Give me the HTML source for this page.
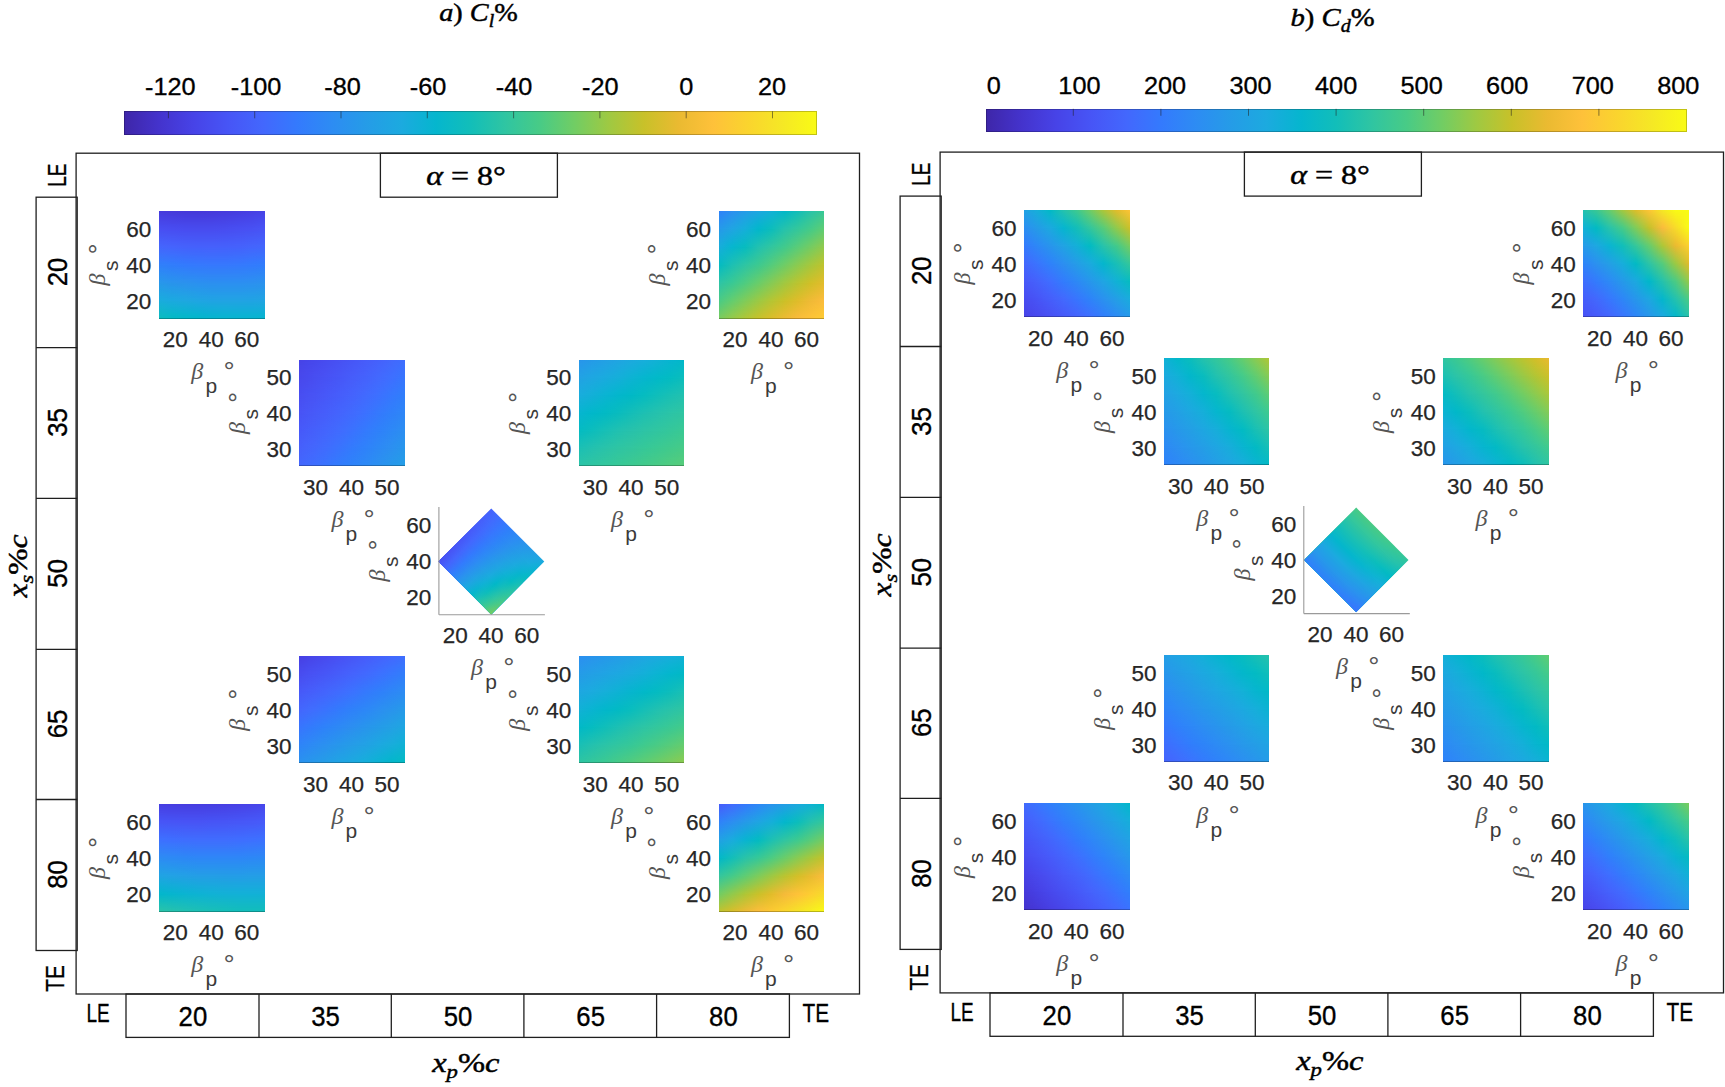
<!DOCTYPE html>
<html lang="en"><head><meta charset="utf-8"><title>Cl and Cd percentage maps</title>
<style>
html,body{margin:0;padding:0;background:#fff}
#fig{position:relative;width:1725px;height:1087px;overflow:hidden;background:#fff}
.h{position:absolute}
.h::after{content:"";position:absolute;left:0;right:0;bottom:0;height:1px;background:rgba(0,0,0,.25)}
.h.d::after{display:none}
.h i{position:absolute;left:0;top:0;right:0;bottom:0;display:block}
.m1{-webkit-mask-image:linear-gradient(180deg,transparent 0%,#000 16.67%);mask-image:linear-gradient(180deg,transparent 0%,#000 16.67%)}
.m2{-webkit-mask-image:linear-gradient(180deg,transparent 16.67%,#000 33.33%);mask-image:linear-gradient(180deg,transparent 16.67%,#000 33.33%)}
.m3{-webkit-mask-image:linear-gradient(180deg,transparent 33.33%,#000 50%);mask-image:linear-gradient(180deg,transparent 33.33%,#000 50%)}
.m4{-webkit-mask-image:linear-gradient(180deg,transparent 50%,#000 66.67%);mask-image:linear-gradient(180deg,transparent 50%,#000 66.67%)}
.m5{-webkit-mask-image:linear-gradient(180deg,transparent 66.67%,#000 83.33%);mask-image:linear-gradient(180deg,transparent 66.67%,#000 83.33%)}
.m6{-webkit-mask-image:linear-gradient(180deg,transparent 83.33%,#000 100%);mask-image:linear-gradient(180deg,transparent 83.33%,#000 100%)}
.cb{position:absolute;box-shadow:inset 0 0 0 1px rgba(0,0,0,.22)}
svg{position:absolute;left:0;top:0}
.ln{fill:none;stroke:#1f1f1f;stroke-width:1.3}
.tk{stroke:#222;stroke-opacity:.55;stroke-width:1}
.axl{stroke:#9a9a9a;stroke-width:1.1}
text{font-family:"Liberation Sans",sans-serif;fill:#000}
.tl{font-size:22.5px;fill:#262626;stroke:#262626;stroke-width:.25}
.cl{font-size:23px;fill:#000;stroke:#000;stroke-width:.3}
.sn{font-size:27px;stroke:#000;stroke-width:.35}
.sl{font-size:25.5px;stroke:#000;stroke-width:.3}
.al,.ax,.ti{font-family:"Liberation Serif",serif;stroke:#000;stroke-width:.45}
.it{font-style:italic}
.al{font-size:27px}
.ax{font-size:28.3px}
.ti{font-size:25.5px}
.sub{font-size:70%}
.be{font-family:"Liberation Serif",serif;font-style:italic;font-size:24px;fill:#555}
.bs{font-size:21px;fill:#3a3a3a}
.bd{font-size:28px;fill:#555}
</style></head>
<body>
<div id="fig">
<div class="h" style="left:159px;top:211px;width:105.9px;height:107.7px;"><i style="background:linear-gradient(90deg,#463adc,#4639d9,#4538d8,#4538d8,#4639d9,#463adc,#463cdf,#473fe3,#4743e7)"></i><i class="m1" style="background:linear-gradient(90deg,#484ff2,#484df1,#484cf0,#484cef,#484cef,#484df0,#484ff2,#4851f3,#4854f6)"></i><i class="m2" style="background:linear-gradient(90deg,#4466fd,#4564fd,#4562fc,#4561fc,#4661fc,#4561fc,#4562fc,#4465fd,#4367fd)"></i><i class="m3" style="background:linear-gradient(90deg,#3080fa,#317dfc,#337afd,#3579fd,#3678fd,#3678fd,#3579fd,#337bfd,#317dfc)"></i><i class="m4" style="background:linear-gradient(90deg,#2798ea,#2994ec,#2b92ee,#2b90f0,#2c8ff0,#2c8ff1,#2c8ff1,#2c90f0,#2b92ee)"></i><i class="m5" style="background:linear-gradient(90deg,#19addc,#1baadf,#1ea8e0,#1fa6e2,#20a4e3,#21a4e3,#21a4e3,#20a4e3,#20a5e2)"></i><i class="m6" style="background:linear-gradient(90deg,#0abdbd,#03bbc3,#01b9c7,#01b7ca,#04b6cd,#06b6ce,#06b5cf,#06b5cf,#05b6ce)"></i></div>
<div class="h" style="left:1024.1px;top:210px;width:105.5px;height:107.2px;"><i style="background:linear-gradient(90deg,#22a1e4,#16afd9,#01bac6,#25c2ad,#3eca8f,#70cd65,#adc638,#e2bc2b,#fec437)"></i><i class="m1" style="background:linear-gradient(90deg,#2c8ef2,#259be7,#1ca9df,#06b5cf,#13beb8,#33c69d,#58cc79,#92ca4b,#ccc028)"></i><i class="m2" style="background:linear-gradient(90deg,#347afd,#2d88f6,#2895ec,#21a3e3,#13b0d7,#02bbc3,#29c3aa,#43ca8a,#77cc60)"></i><i class="m3" style="background:linear-gradient(90deg,#4367fd,#3a74fe,#2f82fa,#2c8ff0,#259de7,#1babde,#04b6cd,#19bfb6,#35c79a)"></i><i class="m4" style="background:linear-gradient(90deg,#4758f8,#4562fc,#3f6eff,#327cfc,#2d89f5,#2797eb,#20a5e3,#11b2d5,#06bcc0)"></i><i class="m5" style="background:linear-gradient(90deg,#484cf0,#4854f6,#465efb,#4369fe,#3875fe,#2e83f9,#2b91ef,#249fe6,#1aacdd)"></i><i class="m6" style="background:linear-gradient(90deg,#4743e7,#4849ed,#4851f3,#4759f9,#4563fd,#3e6fff,#317dfc,#2d8bf4,#2699ea)"></i></div>
<div class="h" style="left:718.7px;top:211px;width:105.8px;height:107.7px;"><i style="background:linear-gradient(90deg,#2f81fa,#2c8ff0,#259ce7,#1ea7e1,#12b1d6,#01b8c8,#12beb9,#2ac3a9,#37c898)"></i><i class="m1" style="background:linear-gradient(90deg,#2699e9,#20a5e2,#15afd9,#02b7cb,#0cbdbc,#26c2ac,#34c79b,#45cb88,#5fcd73)"></i><i class="m2" style="background:linear-gradient(90deg,#18addb,#06b6ce,#07bcbf,#22c1b0,#32c69f,#41ca8c,#5acc78,#75cc61,#92ca4c)"></i><i class="m3" style="background:linear-gradient(90deg,#03bbc2,#1dc0b3,#2fc5a3,#3dc990,#54cc7c,#6fcd66,#8ccb50,#a7c73c,#bfc32d)"></i><i class="m4" style="background:linear-gradient(90deg,#2dc4a6,#39c994,#4fcc80,#69cd6a,#86cb55,#a2c840,#bbc430,#d1bf27,#e3bc2c)"></i><i class="m5" style="background:linear-gradient(90deg,#4acb85,#64cd6f,#80cc59,#9cc944,#b6c533,#ccc028,#e0bc2a,#f0ba36,#fcbc3d)"></i><i class="m6" style="background:linear-gradient(90deg,#7acc5d,#97ca48,#b1c636,#c8c129,#dcbd29,#edba33,#fabb3d,#fec338,#fdcc32)"></i></div>
<div class="h" style="left:1583.3px;top:210px;width:106px;height:107.2px;"><i style="background:linear-gradient(90deg,#21c1b0,#39c895,#65cd6e,#a3c83f,#debd29,#fec537,#f5e824,#f9fb15,#f9fb15)"></i><i class="m1" style="background:linear-gradient(90deg,#13b1d7,#02bac3,#28c3ab,#45cb89,#80cc59,#c3c22b,#f9bb3d,#f7db2a,#f9fb15)"></i><i class="m2" style="background:linear-gradient(90deg,#269ae9,#1ea7e1,#0ab4d2,#11beb9,#35c79b,#65cd6e,#adc738,#ebba31,#fbd22f)"></i><i class="m3" style="background:linear-gradient(90deg,#2e83f9,#2b91ef,#249fe5,#17aedb,#02bac4,#2dc4a6,#55cc7c,#9cc943,#e1bc2b)"></i><i class="m4" style="background:linear-gradient(90deg,#3f6dfe,#337bfc,#2d8af5,#2699e9,#1ca9df,#01b8ca,#26c2ac,#4ccb83,#94ca4a)"></i><i class="m5" style="background:linear-gradient(90deg,#465dfa,#4368fd,#3876fe,#2e86f7,#2796eb,#1ea7e1,#04b6cc,#24c2ae,#4acb85)"></i><i class="m6" style="background:linear-gradient(90deg,#4851f4,#475af9,#4465fd,#3a74fe,#2e85f8,#2896eb,#1ea8e1,#02b7cb,#27c2ac)"></i></div>
<div class="h" style="left:299.2px;top:359.5px;width:106px;height:106.9px;"><i style="background:linear-gradient(90deg,#4743e7,#4747ec,#484cf0,#4851f3,#4756f7,#475cfa,#4561fc,#4368fd,#3f6eff)"></i><i class="m1" style="background:linear-gradient(90deg,#4848ec,#484df0,#4852f4,#4757f7,#475dfa,#4562fc,#4369fe,#3e6fff,#3776fe)"></i><i class="m2" style="background:linear-gradient(90deg,#484ef1,#4853f4,#4758f8,#465dfb,#4563fd,#426afe,#3d70ff,#3678fe,#307ffb)"></i><i class="m3" style="background:linear-gradient(90deg,#4853f5,#4759f8,#465efb,#4464fd,#416afe,#3c71ff,#3579fd,#3080fa,#2e87f7)"></i><i class="m4" style="background:linear-gradient(90deg,#4759f9,#465ffb,#4465fd,#416bfe,#3b72fe,#347afd,#2f81fa,#2d88f6,#2c8ff1)"></i><i class="m5" style="background:linear-gradient(90deg,#4660fb,#4466fd,#406cfe,#3a73fe,#337bfd,#2f82fa,#2d89f5,#2c90f0,#2797eb)"></i><i class="m6" style="background:linear-gradient(90deg,#4367fd,#3f6dfe,#3974fe,#327cfc,#2e83f9,#2d8af5,#2b91ef,#2798ea,#249fe6)"></i></div>
<div class="h" style="left:1164.1px;top:358.3px;width:105.3px;height:107.2px;"><i style="background:linear-gradient(90deg,#11b1d6,#01b8ca,#0bbdbc,#25c2ad,#34c79c,#47cb87,#66cd6d,#8bcb51,#b0c636)"></i><i class="m1" style="background:linear-gradient(90deg,#1caadf,#12b1d7,#02b7cb,#09bcbe,#23c1af,#32c69e,#44cb8a,#62cd70,#87cb54)"></i><i class="m2" style="background:linear-gradient(90deg,#23a1e4,#1da9e0,#14b0d8,#04b6cd,#07bcc0,#20c1b1,#31c5a1,#41ca8c,#5ecd74)"></i><i class="m3" style="background:linear-gradient(90deg,#2699e9,#23a0e5,#1da8e0,#15afd9,#05b6ce,#05bbc1,#1dc0b3,#2fc5a3,#3eca8f)"></i><i class="m4" style="background:linear-gradient(90deg,#2b91ef,#2798ea,#249fe5,#1ea7e1,#17aeda,#07b5cf,#02bbc3,#1ac0b4,#2ec4a5)"></i><i class="m5" style="background:linear-gradient(90deg,#2d89f5,#2c90f0,#2797eb,#249ee6,#1fa6e2,#18addb,#09b4d1,#02bac4,#17bfb6)"></i><i class="m6" style="background:linear-gradient(90deg,#2f81fa,#2d88f6,#2c8ff1,#2796eb,#249ee6,#20a5e2,#19addc,#0bb3d2,#01b9c6)"></i></div>
<div class="h" style="left:578.9px;top:359.5px;width:105.6px;height:106.9px;"><i style="background:linear-gradient(90deg,#2895ec,#259be8,#23a0e5,#20a5e2,#1caadf,#17aedb,#11b2d5,#07b5d0,#01b8ca)"></i><i class="m1" style="background:linear-gradient(90deg,#22a2e4,#1ea7e1,#1aabde,#15afd9,#0db3d3,#05b6ce,#01b9c8,#03bbc2,#0cbdbc)"></i><i class="m2" style="background:linear-gradient(90deg,#19addc,#13b0d7,#0ab4d2,#03b7cc,#01b9c6,#06bcc0,#10beba,#1ac0b4,#23c1af)"></i><i class="m3" style="background:linear-gradient(90deg,#07b5d0,#01b8ca,#02bac4,#09bcbe,#14beb8,#1ec0b2,#26c2ad,#2cc4a7,#30c5a2)"></i><i class="m4" style="background:linear-gradient(90deg,#04bbc2,#0cbdbc,#17bfb6,#21c1b0,#28c2ab,#2dc4a5,#31c6a0,#35c79a,#3ac994)"></i><i class="m5" style="background:linear-gradient(90deg,#1bc0b4,#24c1af,#2ac3a9,#2fc5a3,#33c69e,#36c898,#3bc992,#41ca8c,#47cb87)"></i><i class="m6" style="background:linear-gradient(90deg,#2cc4a7,#30c5a1,#34c79c,#38c896,#3dc990,#43ca8a,#4acb85,#51cc7f,#58cc79)"></i></div>
<div class="h" style="left:1443.3px;top:358.3px;width:105.7px;height:107.2px;"><i style="background:linear-gradient(90deg,#2fc5a2,#3bc992,#4fcc80,#68cd6b,#85cb56,#a1c840,#bcc42f,#d5be28,#eaba31)"></i><i class="m1" style="background:linear-gradient(90deg,#1bc0b4,#2cc4a7,#36c898,#48cb86,#60cd72,#7bcc5d,#98c947,#b3c534,#cdc028)"></i><i class="m2" style="background:linear-gradient(90deg,#02bac5,#13beb8,#27c2ab,#33c69d,#41ca8d,#57cc7a,#71cd64,#8ecb4e,#abc739)"></i><i class="m3" style="background:linear-gradient(90deg,#0db3d3,#01b8c8,#0bbdbc,#22c1b0,#2fc5a2,#3bc992,#4fcc80,#68cd6b,#85cb56)"></i><i class="m4" style="background:linear-gradient(90deg,#1caadf,#12b1d7,#03b7cc,#06bbc1,#1bc0b4,#2cc4a7,#36c898,#48cb86,#60cd72)"></i><i class="m5" style="background:linear-gradient(90deg,#23a0e5,#1ea8e1,#16afda,#07b5d0,#02bac5,#13beb8,#27c2ab,#33c69d,#41ca8d)"></i><i class="m6" style="background:linear-gradient(90deg,#2895ec,#249de6,#20a5e2,#19acdc,#0db3d3,#01b8c8,#0bbdbc,#22c1b0,#2fc5a2)"></i></div>
<div class="h" style="left:299.2px;top:656.1px;width:106px;height:107.1px;"><i style="background:linear-gradient(90deg,#473fe3,#4745e9,#484aee,#4850f3,#4756f6,#475cfa,#4562fc,#4368fe,#3f6eff)"></i><i class="m1" style="background:linear-gradient(90deg,#484cef,#4852f4,#4757f7,#465dfa,#4563fd,#4269fe,#3d70ff,#3777fe,#317efb)"></i><i class="m2" style="background:linear-gradient(90deg,#4759f8,#465ffb,#4465fd,#416bfe,#3c72ff,#3579fd,#307ffb,#2e86f7,#2d8cf3)"></i><i class="m3" style="background:linear-gradient(90deg,#4466fd,#406dfe,#3a73fe,#337afd,#2f81fa,#2d87f7,#2c8ef2,#2994ed,#269ae9)"></i><i class="m4" style="background:linear-gradient(90deg,#3875fe,#327cfc,#2e83f9,#2d89f5,#2c8ff0,#2895ec,#259be8,#23a1e4,#1ea7e1)"></i><i class="m5" style="background:linear-gradient(90deg,#2e84f8,#2d8bf4,#2b91ef,#2797eb,#259de7,#22a2e4,#1da8e0,#18addb,#0fb2d4)"></i><i class="m6" style="background:linear-gradient(90deg,#2a92ee,#2798ea,#249ee6,#20a4e3,#1ca9df,#16afda,#0bb3d2,#01b7ca,#04bbc2)"></i></div>
<div class="h" style="left:1164.1px;top:655.1px;width:105.3px;height:106.8px;"><i style="background:linear-gradient(90deg,#249fe6,#20a5e3,#1baade,#14b0d8,#08b4d0,#01b9c8,#08bcbf,#19bfb5,#27c2ac)"></i><i class="m1" style="background:linear-gradient(90deg,#2896ec,#259ce7,#22a2e4,#1da8e0,#18aedb,#0db3d4,#03b7cb,#03bbc3,#11beb9)"></i><i class="m2" style="background:linear-gradient(90deg,#2d8cf3,#2a93ee,#2699e9,#23a0e5,#1fa6e2,#1aabdd,#13b1d7,#06b5cf,#01b9c6)"></i><i class="m3" style="background:linear-gradient(90deg,#2e83f9,#2d8af5,#2b90f0,#2797eb,#249de7,#21a3e3,#1ca9e0,#16afda,#0bb3d2)"></i><i class="m4" style="background:linear-gradient(90deg,#3578fd,#3080fb,#2e87f7,#2c8ef2,#2994ed,#269ae8,#23a1e5,#1ea7e1,#19acdc)"></i><i class="m5" style="background:linear-gradient(90deg,#3f6dfe,#3975fe,#317dfc,#2e84f8,#2d8bf4,#2b91ef,#2798ea,#249ee6,#20a4e3)"></i><i class="m6" style="background:linear-gradient(90deg,#4563fd,#426afe,#3c72ff,#347afd,#2f81fa,#2d88f6,#2c8ff1,#2895ec,#259ce7)"></i></div>
<div class="h" style="left:578.9px;top:656.1px;width:105.6px;height:107.1px;"><i style="background:linear-gradient(90deg,#2c8ff1,#2994ed,#2698ea,#259de7,#22a1e4,#1fa6e2,#1caadf,#17aedb,#11b1d6)"></i><i class="m1" style="background:linear-gradient(90deg,#259be8,#23a0e5,#20a4e3,#1da8e0,#19acdc,#13b0d8,#0bb4d2,#03b7cc,#01b9c6)"></i><i class="m2" style="background:linear-gradient(90deg,#1ea7e1,#1babde,#16afd9,#0eb2d4,#06b5ce,#01b8c8,#04bbc2,#0ebdbb,#1bc0b4)"></i><i class="m3" style="background:linear-gradient(90deg,#12b1d6,#09b4d1,#02b7cb,#02bac4,#09bdbe,#16bfb7,#22c1b0,#2ac3a9,#30c5a1)"></i><i class="m4" style="background:linear-gradient(90deg,#01b9c7,#06bcc0,#11beb9,#1dc0b3,#27c2ab,#2ec5a4,#34c79c,#3bc993,#44cb8a)"></i><i class="m5" style="background:linear-gradient(90deg,#19bfb5,#24c1ae,#2cc4a7,#32c69f,#37c897,#40ca8d,#4bcb84,#58cc79,#65cd6e)"></i><i class="m6" style="background:linear-gradient(90deg,#2fc5a2,#35c79a,#3cc991,#47cb87,#53cc7d,#60cd72,#6ecd66,#7ecc5b,#8dcb4f)"></i></div>
<div class="h" style="left:1443.3px;top:655.1px;width:105.7px;height:106.8px;"><i style="background:linear-gradient(90deg,#15afd9,#08b4d0,#01b9c7,#0cbdbc,#21c1b0,#2ec4a4,#38c896,#49cb85,#60cd72)"></i><i class="m1" style="background:linear-gradient(90deg,#1da8e0,#17aeda,#0bb3d2,#01b8c9,#09bcbe,#1dc0b3,#2cc4a7,#36c899,#45cb89)"></i><i class="m2" style="background:linear-gradient(90deg,#23a0e5,#1ea7e1,#19addc,#0eb2d4,#02b7ca,#06bcc0,#1abfb5,#2ac3a9,#34c79c)"></i><i class="m3" style="background:linear-gradient(90deg,#2699e9,#249fe5,#1fa6e2,#1aacdd,#11b1d6,#04b6cc,#03bbc2,#16bfb7,#27c2ab)"></i><i class="m4" style="background:linear-gradient(90deg,#2b91ef,#2797ea,#249ee6,#20a4e3,#1babde,#13b0d7,#06b6ce,#02bac4,#11beb9)"></i><i class="m5" style="background:linear-gradient(90deg,#2d89f5,#2c90f0,#2796eb,#259de7,#21a3e3,#1ca9df,#15afd9,#07b5d0,#01b9c6)"></i><i class="m6" style="background:linear-gradient(90deg,#2f81fa,#2d88f6,#2c8ef1,#2895ec,#259be7,#22a2e4,#1da8e0,#17aeda,#0ab4d2)"></i></div>
<div class="h" style="left:159px;top:804.4px;width:105.9px;height:107.2px;"><i style="background:linear-gradient(90deg,#463ee1,#463de0,#463ddf,#463de0,#463ee1,#473fe3,#4741e5,#4744e8,#4747eb)"></i><i class="m1" style="background:linear-gradient(90deg,#4756f7,#4755f6,#4854f6,#4854f5,#4755f6,#4756f6,#4757f7,#4759f8,#475bfa)"></i><i class="m2" style="background:linear-gradient(90deg,#3d71ff,#3e6fff,#3f6efe,#406dfe,#406dfe,#406dfe,#3f6eff,#3e70ff,#3c72ff)"></i><i class="m3" style="background:linear-gradient(90deg,#2d8cf3,#2d8af5,#2d88f6,#2e87f7,#2e87f7,#2e87f7,#2e87f7,#2d88f6,#2d89f5)"></i><i class="m4" style="background:linear-gradient(90deg,#20a4e3,#22a2e4,#23a0e5,#249ee6,#249ee6,#249de6,#249de7,#249ee6,#249ee6)"></i><i class="m5" style="background:linear-gradient(90deg,#02b7cb,#06b5ce,#0ab4d1,#0db3d3,#10b2d5,#12b1d6,#12b1d7,#12b1d7,#12b1d6)"></i><i class="m6" style="background:linear-gradient(90deg,#2cc4a7,#27c2ac,#22c1b0,#1dc0b3,#19bfb5,#15bfb7,#13beb9,#12beb9,#12beb9)"></i></div>
<div class="h" style="left:1024.1px;top:803.3px;width:105.5px;height:107.2px;"><i style="background:linear-gradient(90deg,#416bfe,#3975fe,#3080fb,#2d8af5,#2994ed,#249ee6,#1ea7e1,#13b0d7,#01b8ca)"></i><i class="m1" style="background:linear-gradient(90deg,#465ffb,#4368fe,#3b73fe,#317efb,#2d88f6,#2b92ee,#259ce7,#1fa5e2,#16aeda)"></i><i class="m2" style="background:linear-gradient(90deg,#4755f6,#465dfa,#4366fd,#3d70ff,#327bfc,#2e86f8,#2c90f0,#269ae9,#21a3e3)"></i><i class="m3" style="background:linear-gradient(90deg,#484bef,#4853f5,#475bfa,#4464fd,#3f6eff,#3579fd,#2e84f9,#2c8ef2,#2798ea)"></i><i class="m4" style="background:linear-gradient(90deg,#4742e6,#4849ed,#4851f3,#475af9,#4562fc,#406cfe,#3777fe,#2f81fa,#2d8cf3)"></i><i class="m5" style="background:linear-gradient(90deg,#4639da,#4740e4,#4848ec,#4850f2,#4758f8,#4661fc,#426afe,#3974fe,#307ffb)"></i><i class="m6" style="background:linear-gradient(90deg,#4433cc,#4538d8,#473fe2,#4746ea,#484ef1,#4756f7,#465ffb,#4368fe,#3b72ff)"></i></div>
<div class="h" style="left:718.7px;top:804.4px;width:105.8px;height:107.2px;"><i style="background:linear-gradient(90deg,#475cfa,#426afe,#3579fd,#2e87f7,#2a93ee,#249ee6,#1ca9df,#0eb2d4,#01b9c6)"></i><i class="m1" style="background:linear-gradient(90deg,#2f82fa,#2c8ef1,#269ae8,#1fa5e2,#15afd9,#03b7cc,#0bbdbc,#26c2ac,#34c79b)"></i><i class="m2" style="background:linear-gradient(90deg,#22a1e4,#1aacdd,#09b4d1,#03bbc2,#1dc0b3,#30c5a2,#3eca8f,#58cc79,#76cc61)"></i><i class="m3" style="background:linear-gradient(90deg,#01b8c8,#13beb9,#2ac3a8,#37c897,#4dcc82,#6acd6a,#8acb52,#a8c73b,#c4c22a)"></i><i class="m4" style="background:linear-gradient(90deg,#33c69e,#44cb8a,#5fcd73,#7ecc5b,#9dc943,#bac430,#d4bf28,#e9bb30,#fbbc3d)"></i><i class="m5" style="background:linear-gradient(90deg,#71cd64,#91ca4c,#afc636,#cac129,#e2bc2b,#f5ba3a,#fec239,#fdce31,#f7db2b)"></i><i class="m6" style="background:linear-gradient(90deg,#c1c32d,#d9bd28,#eeba34,#fdbd3d,#fec934,#fad62d,#f5e327,#f6ef20,#f9fb15)"></i></div>
<div class="h" style="left:1583.3px;top:803.3px;width:106px;height:107.2px;"><i style="background:linear-gradient(90deg,#2895ec,#23a0e5,#1babde,#09b4d1,#05bbc1,#24c1ae,#36c899,#52cc7e,#7acc5d)"></i><i class="m1" style="background:linear-gradient(90deg,#2e87f7,#2b92ee,#259de7,#1ea7e1,#11b1d6,#01b9c6,#1ac0b4,#31c6a0,#47cb87)"></i><i class="m2" style="background:linear-gradient(90deg,#3777fe,#2e83f9,#2c8ef1,#2699e9,#20a4e3,#17aeda,#03b7cc,#0fbebb,#2bc3a7)"></i><i class="m3" style="background:linear-gradient(90deg,#4368fd,#3b73fe,#307ffb,#2d8af4,#2895ec,#23a0e5,#1babde,#09b4d1,#05bbc1)"></i><i class="m4" style="background:linear-gradient(90deg,#475af9,#4464fd,#3e6fff,#337bfc,#2e87f7,#2b92ee,#259de7,#1ea7e1,#11b1d6)"></i><i class="m5" style="background:linear-gradient(90deg,#484ef1,#4757f7,#4561fc,#416bfe,#3777fe,#2e83f9,#2c8ef1,#2699e9,#20a4e3)"></i><i class="m6" style="background:linear-gradient(90deg,#4743e7,#484bef,#4854f5,#465dfb,#4368fd,#3b73fe,#307ffb,#2d8af4,#2895ec)"></i></div>
<div class="h d" style="left:454.44px;top:523.94px;width:74.53px;height:74.53px;transform:rotate(45deg)"><i style="background:linear-gradient(90deg,#4563fd,#406cfe,#3776fe,#2f80fa,#2d89f5,#2b92ee,#269ae8,#22a2e4,#1caadf)"></i><i class="m1" style="background:linear-gradient(90deg,#465ffb,#416bfe,#3777fe,#2e83f9,#2c8ef1,#2699e9,#21a3e3,#1aacdd,#09b4d1)"></i><i class="m2" style="background:linear-gradient(90deg,#475bf9,#4269fe,#3678fd,#2e86f7,#2a93ed,#23a0e5,#1babde,#08b4d0,#07bcc0)"></i><i class="m3" style="background:linear-gradient(90deg,#4757f8,#4368fe,#3479fd,#2d8af5,#2699ea,#1fa6e1,#0fb2d4,#04bbc2,#26c2ad)"></i><i class="m4" style="background:linear-gradient(90deg,#4854f5,#4367fd,#337bfd,#2d8df2,#249ee6,#19addc,#01b8c9,#1fc0b1,#37c897)"></i><i class="m5" style="background:linear-gradient(90deg,#4851f3,#4466fd,#327cfc,#2b91ef,#21a3e3,#0eb2d4,#0dbdbc,#31c6a0,#54cc7d)"></i><i class="m6" style="background:linear-gradient(90deg,#484ef1,#4465fd,#317efb,#2994ed,#1da8e0,#02b7ca,#25c2ae,#43ca8b,#7acc5d)"></i></div>
<div class="h d" style="left:1319.41px;top:523.21px;width:74.39px;height:74.39px;transform:rotate(45deg)"><i style="background:linear-gradient(90deg,#48cb86,#4acb84,#4bcb84,#4acb85,#47cb87,#43ca8b,#3dca90,#38c896,#33c69d)"></i><i class="m1" style="background:linear-gradient(90deg,#31c6a0,#32c69f,#32c69e,#32c69f,#31c6a0,#2fc5a3,#2bc3a7,#26c2ac,#1ec0b2)"></i><i class="m2" style="background:linear-gradient(90deg,#15bfb8,#18bfb6,#19bfb5,#18bfb6,#15bfb7,#10beba,#0abdbd,#04bbc2,#01b9c7)"></i><i class="m3" style="background:linear-gradient(90deg,#06b5ce,#04b6cd,#04b6cc,#04b6cd,#05b6ce,#08b5d0,#0db3d3,#13b1d7,#18aedb)"></i><i class="m4" style="background:linear-gradient(90deg,#1ea7e1,#1da8e0,#1da9e0,#1da9e0,#1da8e0,#1fa6e1,#20a4e3,#22a1e4,#249ee6)"></i><i class="m5" style="background:linear-gradient(90deg,#2995ec,#2896ec,#2796eb,#2796eb,#2895ec,#2994ed,#2b91ef,#2c8ef1,#2d8af4)"></i><i class="m6" style="background:linear-gradient(90deg,#317efb,#307ffb,#2f80fa,#2f80fa,#307ffb,#317dfc,#337bfd,#3777fe,#3b72ff)"></i></div>
<div class="cb" style="left:124px;top:111.4px;width:692.8px;height:23.2px;background:linear-gradient(90deg,#3e26a8,#4433cc,#4743e7,#4755f6,#4367fd,#347afd,#2d8cf3,#259ce7,#1caadf,#05b6ce,#12beb9,#2fc5a2,#48cb86,#71cd64,#9fc942,#c8c129,#eaba31,#fec13a,#fad42e,#f5e825,#f9fb15)"></div>
<div class="cb" style="left:985.7px;top:108.8px;width:701.5px;height:23.1px;background:linear-gradient(90deg,#3e26a8,#4433cc,#4743e7,#4755f6,#4367fd,#347afd,#2d8cf3,#259ce7,#1caadf,#05b6ce,#12beb9,#2fc5a2,#48cb86,#71cd64,#9fc942,#c8c129,#eaba31,#fec13a,#fad42e,#f5e825,#f9fb15)"></div>
<svg width="1725" height="1087" viewBox="0 0 1725 1087">
<rect class="ln" x="76.1" y="153.2" width="783.4" height="840.8"/>
<rect class="ln" x="380.4" y="153.2" width="177" height="44"/>
<rect class="ln" x="36.1" y="197.2" width="41.1" height="753.3"/>
<line class="ln" x1="36.1" y1="347.6" x2="77.2" y2="347.6"/>
<line class="ln" x1="36.1" y1="498.4" x2="77.2" y2="498.4"/>
<line class="ln" x1="36.1" y1="649.3" x2="77.2" y2="649.3"/>
<line class="ln" x1="36.1" y1="799.5" x2="77.2" y2="799.5"/>
<rect class="ln" x="126" y="994" width="663.4" height="43.4"/>
<line class="ln" x1="259" y1="994" x2="259" y2="1037.4"/>
<line class="ln" x1="391.3" y1="994" x2="391.3" y2="1037.4"/>
<line class="ln" x1="523.9" y1="994" x2="523.9" y2="1037.4"/>
<line class="ln" x1="656.6" y1="994" x2="656.6" y2="1037.4"/>
<text class="sn" x="66.6" y="271.9" text-anchor="middle" transform="rotate(-90 66.6 271.9)" textLength="28.6" lengthAdjust="spacingAndGlyphs">20</text>
<text class="sn" x="192.9" y="1026.4" text-anchor="middle" textLength="28.6" lengthAdjust="spacingAndGlyphs">20</text>
<text class="sn" x="66.6" y="422.5" text-anchor="middle" transform="rotate(-90 66.6 422.5)" textLength="28.6" lengthAdjust="spacingAndGlyphs">35</text>
<text class="sn" x="325.55" y="1026.4" text-anchor="middle" textLength="28.6" lengthAdjust="spacingAndGlyphs">35</text>
<text class="sn" x="66.6" y="573.35" text-anchor="middle" transform="rotate(-90 66.6 573.35)" textLength="28.6" lengthAdjust="spacingAndGlyphs">50</text>
<text class="sn" x="458" y="1026.4" text-anchor="middle" textLength="28.6" lengthAdjust="spacingAndGlyphs">50</text>
<text class="sn" x="66.6" y="723.9" text-anchor="middle" transform="rotate(-90 66.6 723.9)" textLength="28.6" lengthAdjust="spacingAndGlyphs">65</text>
<text class="sn" x="590.65" y="1026.4" text-anchor="middle" textLength="28.6" lengthAdjust="spacingAndGlyphs">65</text>
<text class="sn" x="66.6" y="874.5" text-anchor="middle" transform="rotate(-90 66.6 874.5)" textLength="28.6" lengthAdjust="spacingAndGlyphs">80</text>
<text class="sn" x="723.4" y="1026.4" text-anchor="middle" textLength="28.6" lengthAdjust="spacingAndGlyphs">80</text>
<text class="sl" x="66" y="175.2" text-anchor="middle" transform="rotate(-90 66 175.2)" textLength="23.2" lengthAdjust="spacingAndGlyphs">LE</text>
<text class="sl" x="64.4" y="978.4" text-anchor="middle" transform="rotate(-90 64.4 978.4)" textLength="26.6" lengthAdjust="spacingAndGlyphs">TE</text>
<text class="sl" x="98" y="1021.8" text-anchor="middle" textLength="23.2" lengthAdjust="spacingAndGlyphs">LE</text>
<text class="sl" x="815.8" y="1022.4" text-anchor="middle" textLength="26.6" lengthAdjust="spacingAndGlyphs">TE</text>
<text class="al" x="466" y="185" text-anchor="middle" textLength="79.5" lengthAdjust="spacingAndGlyphs"><tspan class="it">α</tspan> = 8°</text>
<text class="ax" x="26.6" y="566" text-anchor="middle" transform="rotate(-90 26.6 566)" textLength="63" lengthAdjust="spacingAndGlyphs"><tspan class="it">x</tspan><tspan class="it sub" dy="6">s</tspan><tspan dy="-6">%</tspan><tspan class="it">c</tspan></text>
<text class="ax" x="465.8" y="1071.5" text-anchor="middle" textLength="67.3" lengthAdjust="spacingAndGlyphs"><tspan class="it">x</tspan><tspan class="it sub" dy="6">p</tspan><tspan dy="-6">%</tspan><tspan class="it">c</tspan></text>
<rect class="ln" x="940.1" y="152.1" width="783.4" height="840.8"/>
<rect class="ln" x="1244.4" y="152.1" width="177" height="44"/>
<rect class="ln" x="900.1" y="196.1" width="41.1" height="753.3"/>
<line class="ln" x1="900.1" y1="346.5" x2="941.2" y2="346.5"/>
<line class="ln" x1="900.1" y1="497.3" x2="941.2" y2="497.3"/>
<line class="ln" x1="900.1" y1="648.2" x2="941.2" y2="648.2"/>
<line class="ln" x1="900.1" y1="798.4" x2="941.2" y2="798.4"/>
<rect class="ln" x="990" y="992.9" width="663.4" height="43.4"/>
<line class="ln" x1="1123" y1="992.9" x2="1123" y2="1036.3"/>
<line class="ln" x1="1255.3" y1="992.9" x2="1255.3" y2="1036.3"/>
<line class="ln" x1="1387.9" y1="992.9" x2="1387.9" y2="1036.3"/>
<line class="ln" x1="1520.6" y1="992.9" x2="1520.6" y2="1036.3"/>
<text class="sn" x="930.6" y="270.8" text-anchor="middle" transform="rotate(-90 930.6 270.8)" textLength="28.6" lengthAdjust="spacingAndGlyphs">20</text>
<text class="sn" x="1056.9" y="1025.3" text-anchor="middle" textLength="28.6" lengthAdjust="spacingAndGlyphs">20</text>
<text class="sn" x="930.6" y="421.4" text-anchor="middle" transform="rotate(-90 930.6 421.4)" textLength="28.6" lengthAdjust="spacingAndGlyphs">35</text>
<text class="sn" x="1189.55" y="1025.3" text-anchor="middle" textLength="28.6" lengthAdjust="spacingAndGlyphs">35</text>
<text class="sn" x="930.6" y="572.25" text-anchor="middle" transform="rotate(-90 930.6 572.25)" textLength="28.6" lengthAdjust="spacingAndGlyphs">50</text>
<text class="sn" x="1322" y="1025.3" text-anchor="middle" textLength="28.6" lengthAdjust="spacingAndGlyphs">50</text>
<text class="sn" x="930.6" y="722.8" text-anchor="middle" transform="rotate(-90 930.6 722.8)" textLength="28.6" lengthAdjust="spacingAndGlyphs">65</text>
<text class="sn" x="1454.65" y="1025.3" text-anchor="middle" textLength="28.6" lengthAdjust="spacingAndGlyphs">65</text>
<text class="sn" x="930.6" y="873.4" text-anchor="middle" transform="rotate(-90 930.6 873.4)" textLength="28.6" lengthAdjust="spacingAndGlyphs">80</text>
<text class="sn" x="1587.4" y="1025.3" text-anchor="middle" textLength="28.6" lengthAdjust="spacingAndGlyphs">80</text>
<text class="sl" x="930" y="174.1" text-anchor="middle" transform="rotate(-90 930 174.1)" textLength="23.2" lengthAdjust="spacingAndGlyphs">LE</text>
<text class="sl" x="928.4" y="977.3" text-anchor="middle" transform="rotate(-90 928.4 977.3)" textLength="26.6" lengthAdjust="spacingAndGlyphs">TE</text>
<text class="sl" x="962" y="1020.7" text-anchor="middle" textLength="23.2" lengthAdjust="spacingAndGlyphs">LE</text>
<text class="sl" x="1679.8" y="1021.3" text-anchor="middle" textLength="26.6" lengthAdjust="spacingAndGlyphs">TE</text>
<text class="al" x="1330" y="183.9" text-anchor="middle" textLength="79.5" lengthAdjust="spacingAndGlyphs"><tspan class="it">α</tspan> = 8°</text>
<text class="ax" x="890.6" y="564.9" text-anchor="middle" transform="rotate(-90 890.6 564.9)" textLength="63" lengthAdjust="spacingAndGlyphs"><tspan class="it">x</tspan><tspan class="it sub" dy="6">s</tspan><tspan dy="-6">%</tspan><tspan class="it">c</tspan></text>
<text class="ax" x="1329.8" y="1070.4" text-anchor="middle" textLength="67.3" lengthAdjust="spacingAndGlyphs"><tspan class="it">x</tspan><tspan class="it sub" dy="6">p</tspan><tspan dy="-6">%</tspan><tspan class="it">c</tspan></text>
<text class="ti" x="478.5" y="21" text-anchor="middle" textLength="78.5" lengthAdjust="spacingAndGlyphs"><tspan class="it">a</tspan>) <tspan class="it">C</tspan><tspan class="it sub" dy="6">l</tspan><tspan dy="-6">%</tspan></text>
<text class="ti" x="1332.5" y="26.1" text-anchor="middle" textLength="84.2" lengthAdjust="spacingAndGlyphs"><tspan class="it">b</tspan>) <tspan class="it">C</tspan><tspan class="it sub" dy="6">d</tspan><tspan dy="-6">%</tspan></text>
<text class="cl" x="170.3" y="95" text-anchor="middle" textLength="50.63" lengthAdjust="spacingAndGlyphs">-120</text>
<line class="tk" x1="168.4" y1="111.3" x2="168.4" y2="118.3"/>
<text class="cl" x="256.1" y="95" text-anchor="middle" textLength="50.63" lengthAdjust="spacingAndGlyphs">-100</text>
<line class="tk" x1="254.7" y1="111.3" x2="254.7" y2="118.3"/>
<text class="cl" x="342.5" y="95" text-anchor="middle" textLength="36.56" lengthAdjust="spacingAndGlyphs">-80</text>
<line class="tk" x1="341" y1="111.3" x2="341" y2="118.3"/>
<text class="cl" x="428" y="95" text-anchor="middle" textLength="36.56" lengthAdjust="spacingAndGlyphs">-60</text>
<line class="tk" x1="427.3" y1="111.3" x2="427.3" y2="118.3"/>
<text class="cl" x="514" y="95" text-anchor="middle" textLength="36.56" lengthAdjust="spacingAndGlyphs">-40</text>
<line class="tk" x1="513.6" y1="111.3" x2="513.6" y2="118.3"/>
<text class="cl" x="600.4" y="95" text-anchor="middle" textLength="36.56" lengthAdjust="spacingAndGlyphs">-20</text>
<line class="tk" x1="599.9" y1="111.3" x2="599.9" y2="118.3"/>
<text class="cl" x="686.2" y="95" text-anchor="middle" textLength="14.07" lengthAdjust="spacingAndGlyphs">0</text>
<line class="tk" x1="686.2" y1="111.3" x2="686.2" y2="118.3"/>
<text class="cl" x="772" y="95" text-anchor="middle" textLength="28.13" lengthAdjust="spacingAndGlyphs">20</text>
<line class="tk" x1="772.5" y1="111.3" x2="772.5" y2="118.3"/>
<text class="cl" x="993.9" y="94" text-anchor="middle" textLength="14.07" lengthAdjust="spacingAndGlyphs">0</text>
<text class="cl" x="1079.45" y="94" text-anchor="middle" textLength="42.2" lengthAdjust="spacingAndGlyphs">100</text>
<line class="tk" x1="1073.3" y1="108.8" x2="1073.3" y2="115.8"/>
<text class="cl" x="1165" y="94" text-anchor="middle" textLength="42.2" lengthAdjust="spacingAndGlyphs">200</text>
<line class="tk" x1="1160.9" y1="108.8" x2="1160.9" y2="115.8"/>
<text class="cl" x="1250.55" y="94" text-anchor="middle" textLength="42.2" lengthAdjust="spacingAndGlyphs">300</text>
<line class="tk" x1="1248.5" y1="108.8" x2="1248.5" y2="115.8"/>
<text class="cl" x="1336.1" y="94" text-anchor="middle" textLength="42.2" lengthAdjust="spacingAndGlyphs">400</text>
<line class="tk" x1="1336.1" y1="108.8" x2="1336.1" y2="115.8"/>
<text class="cl" x="1421.65" y="94" text-anchor="middle" textLength="42.2" lengthAdjust="spacingAndGlyphs">500</text>
<line class="tk" x1="1423.7" y1="108.8" x2="1423.7" y2="115.8"/>
<text class="cl" x="1507.2" y="94" text-anchor="middle" textLength="42.2" lengthAdjust="spacingAndGlyphs">600</text>
<line class="tk" x1="1511.3" y1="108.8" x2="1511.3" y2="115.8"/>
<text class="cl" x="1592.75" y="94" text-anchor="middle" textLength="42.2" lengthAdjust="spacingAndGlyphs">700</text>
<line class="tk" x1="1598.9" y1="108.8" x2="1598.9" y2="115.8"/>
<text class="cl" x="1678.3" y="94" text-anchor="middle" textLength="42.2" lengthAdjust="spacingAndGlyphs">800</text>
<text class="tl" x="175.3" y="347.1" text-anchor="middle">20</text>
<text class="tl" x="211.2" y="347.1" text-anchor="middle">40</text>
<text class="tl" x="246.8" y="347.1" text-anchor="middle">60</text>
<text class="tl" x="151.4" y="236.8" text-anchor="end">60</text>
<text class="tl" x="151.4" y="272.9" text-anchor="end">40</text>
<text class="tl" x="151.4" y="308.8" text-anchor="end">20</text>
<text class="be" x="191.2" y="379.4">β</text>
<text class="bs" x="205.4" y="393.4">p</text>
<text class="bd" x="223.4" y="381.46">°</text>
<text class="be" x="105" y="285.6" transform="rotate(-90 105 285.6)">β</text>
<text class="bs" x="118.2" y="271" transform="rotate(-90 118.2 271)">s</text>
<text class="bd" x="107.66" y="254.6" transform="rotate(-90 107.66 254.6)">°</text>
<text class="tl" x="1040.4" y="345.6" text-anchor="middle">20</text>
<text class="tl" x="1076.3" y="345.6" text-anchor="middle">40</text>
<text class="tl" x="1111.9" y="345.6" text-anchor="middle">60</text>
<text class="tl" x="1016.5" y="235.8" text-anchor="end">60</text>
<text class="tl" x="1016.5" y="271.9" text-anchor="end">40</text>
<text class="tl" x="1016.5" y="307.8" text-anchor="end">20</text>
<text class="be" x="1056.3" y="377.9">β</text>
<text class="bs" x="1070.5" y="391.9">p</text>
<text class="bd" x="1088.5" y="379.96">°</text>
<text class="be" x="970.1" y="284.6" transform="rotate(-90 970.1 284.6)">β</text>
<text class="bs" x="983.3" y="270" transform="rotate(-90 983.3 270)">s</text>
<text class="bd" x="972.76" y="253.6" transform="rotate(-90 972.76 253.6)">°</text>
<text class="tl" x="735" y="347.1" text-anchor="middle">20</text>
<text class="tl" x="770.9" y="347.1" text-anchor="middle">40</text>
<text class="tl" x="806.5" y="347.1" text-anchor="middle">60</text>
<text class="tl" x="711.1" y="236.8" text-anchor="end">60</text>
<text class="tl" x="711.1" y="272.9" text-anchor="end">40</text>
<text class="tl" x="711.1" y="308.8" text-anchor="end">20</text>
<text class="be" x="750.9" y="379.4">β</text>
<text class="bs" x="765.1" y="393.4">p</text>
<text class="bd" x="783.1" y="381.46">°</text>
<text class="be" x="664.7" y="285.6" transform="rotate(-90 664.7 285.6)">β</text>
<text class="bs" x="677.9" y="271" transform="rotate(-90 677.9 271)">s</text>
<text class="bd" x="667.36" y="254.6" transform="rotate(-90 667.36 254.6)">°</text>
<text class="tl" x="1599.6" y="345.6" text-anchor="middle">20</text>
<text class="tl" x="1635.5" y="345.6" text-anchor="middle">40</text>
<text class="tl" x="1671.1" y="345.6" text-anchor="middle">60</text>
<text class="tl" x="1575.7" y="235.8" text-anchor="end">60</text>
<text class="tl" x="1575.7" y="271.9" text-anchor="end">40</text>
<text class="tl" x="1575.7" y="307.8" text-anchor="end">20</text>
<text class="be" x="1615.5" y="377.9">β</text>
<text class="bs" x="1629.7" y="391.9">p</text>
<text class="bd" x="1647.7" y="379.96">°</text>
<text class="be" x="1529.3" y="284.6" transform="rotate(-90 1529.3 284.6)">β</text>
<text class="bs" x="1542.5" y="270" transform="rotate(-90 1542.5 270)">s</text>
<text class="bd" x="1531.96" y="253.6" transform="rotate(-90 1531.96 253.6)">°</text>
<text class="tl" x="315.5" y="494.8" text-anchor="middle">30</text>
<text class="tl" x="351.4" y="494.8" text-anchor="middle">40</text>
<text class="tl" x="387" y="494.8" text-anchor="middle">50</text>
<text class="tl" x="291.6" y="385.3" text-anchor="end">50</text>
<text class="tl" x="291.6" y="421.4" text-anchor="end">40</text>
<text class="tl" x="291.6" y="457.3" text-anchor="end">30</text>
<text class="be" x="331.4" y="527.1">β</text>
<text class="bs" x="345.6" y="541.1">p</text>
<text class="bd" x="363.6" y="529.16">°</text>
<text class="be" x="245.2" y="434.1" transform="rotate(-90 245.2 434.1)">β</text>
<text class="bs" x="258.4" y="419.5" transform="rotate(-90 258.4 419.5)">s</text>
<text class="bd" x="247.86" y="403.1" transform="rotate(-90 247.86 403.1)">°</text>
<text class="tl" x="1180.4" y="493.9" text-anchor="middle">30</text>
<text class="tl" x="1216.3" y="493.9" text-anchor="middle">40</text>
<text class="tl" x="1251.9" y="493.9" text-anchor="middle">50</text>
<text class="tl" x="1156.5" y="384.1" text-anchor="end">50</text>
<text class="tl" x="1156.5" y="420.2" text-anchor="end">40</text>
<text class="tl" x="1156.5" y="456.1" text-anchor="end">30</text>
<text class="be" x="1196.3" y="526.2">β</text>
<text class="bs" x="1210.5" y="540.2">p</text>
<text class="bd" x="1228.5" y="528.26">°</text>
<text class="be" x="1110.1" y="432.9" transform="rotate(-90 1110.1 432.9)">β</text>
<text class="bs" x="1123.3" y="418.3" transform="rotate(-90 1123.3 418.3)">s</text>
<text class="bd" x="1112.76" y="401.9" transform="rotate(-90 1112.76 401.9)">°</text>
<text class="tl" x="595.2" y="494.8" text-anchor="middle">30</text>
<text class="tl" x="631.1" y="494.8" text-anchor="middle">40</text>
<text class="tl" x="666.7" y="494.8" text-anchor="middle">50</text>
<text class="tl" x="571.3" y="385.3" text-anchor="end">50</text>
<text class="tl" x="571.3" y="421.4" text-anchor="end">40</text>
<text class="tl" x="571.3" y="457.3" text-anchor="end">30</text>
<text class="be" x="611.1" y="527.1">β</text>
<text class="bs" x="625.3" y="541.1">p</text>
<text class="bd" x="643.3" y="529.16">°</text>
<text class="be" x="524.9" y="434.1" transform="rotate(-90 524.9 434.1)">β</text>
<text class="bs" x="538.1" y="419.5" transform="rotate(-90 538.1 419.5)">s</text>
<text class="bd" x="527.56" y="403.1" transform="rotate(-90 527.56 403.1)">°</text>
<text class="tl" x="1459.6" y="493.9" text-anchor="middle">30</text>
<text class="tl" x="1495.5" y="493.9" text-anchor="middle">40</text>
<text class="tl" x="1531.1" y="493.9" text-anchor="middle">50</text>
<text class="tl" x="1435.7" y="384.1" text-anchor="end">50</text>
<text class="tl" x="1435.7" y="420.2" text-anchor="end">40</text>
<text class="tl" x="1435.7" y="456.1" text-anchor="end">30</text>
<text class="be" x="1475.5" y="526.2">β</text>
<text class="bs" x="1489.7" y="540.2">p</text>
<text class="bd" x="1507.7" y="528.26">°</text>
<text class="be" x="1389.3" y="432.9" transform="rotate(-90 1389.3 432.9)">β</text>
<text class="bs" x="1402.5" y="418.3" transform="rotate(-90 1402.5 418.3)">s</text>
<text class="bd" x="1391.96" y="401.9" transform="rotate(-90 1391.96 401.9)">°</text>
<text class="tl" x="315.5" y="791.6" text-anchor="middle">30</text>
<text class="tl" x="351.4" y="791.6" text-anchor="middle">40</text>
<text class="tl" x="387" y="791.6" text-anchor="middle">50</text>
<text class="tl" x="291.6" y="681.9" text-anchor="end">50</text>
<text class="tl" x="291.6" y="718" text-anchor="end">40</text>
<text class="tl" x="291.6" y="753.9" text-anchor="end">30</text>
<text class="be" x="331.4" y="823.9">β</text>
<text class="bs" x="345.6" y="837.9">p</text>
<text class="bd" x="363.6" y="825.96">°</text>
<text class="be" x="245.2" y="730.7" transform="rotate(-90 245.2 730.7)">β</text>
<text class="bs" x="258.4" y="716.1" transform="rotate(-90 258.4 716.1)">s</text>
<text class="bd" x="247.86" y="699.7" transform="rotate(-90 247.86 699.7)">°</text>
<text class="tl" x="1180.4" y="790.3" text-anchor="middle">30</text>
<text class="tl" x="1216.3" y="790.3" text-anchor="middle">40</text>
<text class="tl" x="1251.9" y="790.3" text-anchor="middle">50</text>
<text class="tl" x="1156.5" y="680.9" text-anchor="end">50</text>
<text class="tl" x="1156.5" y="717" text-anchor="end">40</text>
<text class="tl" x="1156.5" y="752.9" text-anchor="end">30</text>
<text class="be" x="1196.3" y="822.6">β</text>
<text class="bs" x="1210.5" y="836.6">p</text>
<text class="bd" x="1228.5" y="824.66">°</text>
<text class="be" x="1110.1" y="729.7" transform="rotate(-90 1110.1 729.7)">β</text>
<text class="bs" x="1123.3" y="715.1" transform="rotate(-90 1123.3 715.1)">s</text>
<text class="bd" x="1112.76" y="698.7" transform="rotate(-90 1112.76 698.7)">°</text>
<text class="tl" x="595.2" y="791.6" text-anchor="middle">30</text>
<text class="tl" x="631.1" y="791.6" text-anchor="middle">40</text>
<text class="tl" x="666.7" y="791.6" text-anchor="middle">50</text>
<text class="tl" x="571.3" y="681.9" text-anchor="end">50</text>
<text class="tl" x="571.3" y="718" text-anchor="end">40</text>
<text class="tl" x="571.3" y="753.9" text-anchor="end">30</text>
<text class="be" x="611.1" y="823.9">β</text>
<text class="bs" x="625.3" y="837.9">p</text>
<text class="bd" x="643.3" y="825.96">°</text>
<text class="be" x="524.9" y="730.7" transform="rotate(-90 524.9 730.7)">β</text>
<text class="bs" x="538.1" y="716.1" transform="rotate(-90 538.1 716.1)">s</text>
<text class="bd" x="527.56" y="699.7" transform="rotate(-90 527.56 699.7)">°</text>
<text class="tl" x="1459.6" y="790.3" text-anchor="middle">30</text>
<text class="tl" x="1495.5" y="790.3" text-anchor="middle">40</text>
<text class="tl" x="1531.1" y="790.3" text-anchor="middle">50</text>
<text class="tl" x="1435.7" y="680.9" text-anchor="end">50</text>
<text class="tl" x="1435.7" y="717" text-anchor="end">40</text>
<text class="tl" x="1435.7" y="752.9" text-anchor="end">30</text>
<text class="be" x="1475.5" y="822.6">β</text>
<text class="bs" x="1489.7" y="836.6">p</text>
<text class="bd" x="1507.7" y="824.66">°</text>
<text class="be" x="1389.3" y="729.7" transform="rotate(-90 1389.3 729.7)">β</text>
<text class="bs" x="1402.5" y="715.1" transform="rotate(-90 1402.5 715.1)">s</text>
<text class="bd" x="1391.96" y="698.7" transform="rotate(-90 1391.96 698.7)">°</text>
<text class="tl" x="175.3" y="940" text-anchor="middle">20</text>
<text class="tl" x="211.2" y="940" text-anchor="middle">40</text>
<text class="tl" x="246.8" y="940" text-anchor="middle">60</text>
<text class="tl" x="151.4" y="830.2" text-anchor="end">60</text>
<text class="tl" x="151.4" y="866.3" text-anchor="end">40</text>
<text class="tl" x="151.4" y="902.2" text-anchor="end">20</text>
<text class="be" x="191.2" y="972.3">β</text>
<text class="bs" x="205.4" y="986.3">p</text>
<text class="bd" x="223.4" y="974.36">°</text>
<text class="be" x="105" y="879" transform="rotate(-90 105 879)">β</text>
<text class="bs" x="118.2" y="864.4" transform="rotate(-90 118.2 864.4)">s</text>
<text class="bd" x="107.66" y="848" transform="rotate(-90 107.66 848)">°</text>
<text class="tl" x="1040.4" y="938.9" text-anchor="middle">20</text>
<text class="tl" x="1076.3" y="938.9" text-anchor="middle">40</text>
<text class="tl" x="1111.9" y="938.9" text-anchor="middle">60</text>
<text class="tl" x="1016.5" y="829.1" text-anchor="end">60</text>
<text class="tl" x="1016.5" y="865.2" text-anchor="end">40</text>
<text class="tl" x="1016.5" y="901.1" text-anchor="end">20</text>
<text class="be" x="1056.3" y="971.2">β</text>
<text class="bs" x="1070.5" y="985.2">p</text>
<text class="bd" x="1088.5" y="973.26">°</text>
<text class="be" x="970.1" y="877.9" transform="rotate(-90 970.1 877.9)">β</text>
<text class="bs" x="983.3" y="863.3" transform="rotate(-90 983.3 863.3)">s</text>
<text class="bd" x="972.76" y="846.9" transform="rotate(-90 972.76 846.9)">°</text>
<text class="tl" x="735" y="940" text-anchor="middle">20</text>
<text class="tl" x="770.9" y="940" text-anchor="middle">40</text>
<text class="tl" x="806.5" y="940" text-anchor="middle">60</text>
<text class="tl" x="711.1" y="830.2" text-anchor="end">60</text>
<text class="tl" x="711.1" y="866.3" text-anchor="end">40</text>
<text class="tl" x="711.1" y="902.2" text-anchor="end">20</text>
<text class="be" x="750.9" y="972.3">β</text>
<text class="bs" x="765.1" y="986.3">p</text>
<text class="bd" x="783.1" y="974.36">°</text>
<text class="be" x="664.7" y="879" transform="rotate(-90 664.7 879)">β</text>
<text class="bs" x="677.9" y="864.4" transform="rotate(-90 677.9 864.4)">s</text>
<text class="bd" x="667.36" y="848" transform="rotate(-90 667.36 848)">°</text>
<text class="tl" x="1599.6" y="938.9" text-anchor="middle">20</text>
<text class="tl" x="1635.5" y="938.9" text-anchor="middle">40</text>
<text class="tl" x="1671.1" y="938.9" text-anchor="middle">60</text>
<text class="tl" x="1575.7" y="829.1" text-anchor="end">60</text>
<text class="tl" x="1575.7" y="865.2" text-anchor="end">40</text>
<text class="tl" x="1575.7" y="901.1" text-anchor="end">20</text>
<text class="be" x="1615.5" y="971.2">β</text>
<text class="bs" x="1629.7" y="985.2">p</text>
<text class="bd" x="1647.7" y="973.26">°</text>
<text class="be" x="1529.3" y="877.9" transform="rotate(-90 1529.3 877.9)">β</text>
<text class="bs" x="1542.5" y="863.3" transform="rotate(-90 1542.5 863.3)">s</text>
<text class="bd" x="1531.96" y="846.9" transform="rotate(-90 1531.96 846.9)">°</text>
<text class="tl" x="455.2" y="643.1" text-anchor="middle">20</text>
<text class="tl" x="491.1" y="643.1" text-anchor="middle">40</text>
<text class="tl" x="526.7" y="643.1" text-anchor="middle">60</text>
<text class="tl" x="431.3" y="532.8" text-anchor="end">60</text>
<text class="tl" x="431.3" y="568.9" text-anchor="end">40</text>
<text class="tl" x="431.3" y="604.8" text-anchor="end">20</text>
<text class="be" x="471.1" y="675.4">β</text>
<text class="bs" x="485.3" y="689.4">p</text>
<text class="bd" x="503.3" y="677.46">°</text>
<text class="be" x="384.9" y="581.6" transform="rotate(-90 384.9 581.6)">β</text>
<text class="bs" x="398.1" y="567" transform="rotate(-90 398.1 567)">s</text>
<text class="bd" x="387.56" y="550.6" transform="rotate(-90 387.56 550.6)">°</text>
<line class="axl" x1="438.9" y1="507" x2="438.9" y2="614.7"/>
<line class="axl" x1="438.9" y1="614.7" x2="544.9" y2="614.7"/>
<text class="tl" x="1320.1" y="642" text-anchor="middle">20</text>
<text class="tl" x="1356" y="642" text-anchor="middle">40</text>
<text class="tl" x="1391.6" y="642" text-anchor="middle">60</text>
<text class="tl" x="1296.2" y="531.8" text-anchor="end">60</text>
<text class="tl" x="1296.2" y="567.9" text-anchor="end">40</text>
<text class="tl" x="1296.2" y="603.8" text-anchor="end">20</text>
<text class="be" x="1336" y="674.3">β</text>
<text class="bs" x="1350.2" y="688.3">p</text>
<text class="bd" x="1368.2" y="676.36">°</text>
<text class="be" x="1249.8" y="580.6" transform="rotate(-90 1249.8 580.6)">β</text>
<text class="bs" x="1263" y="566" transform="rotate(-90 1263 566)">s</text>
<text class="bd" x="1252.46" y="549.6" transform="rotate(-90 1252.46 549.6)">°</text>
<line class="axl" x1="1303.8" y1="506" x2="1303.8" y2="613.6"/>
<line class="axl" x1="1303.8" y1="613.6" x2="1409.8" y2="613.6"/>
</svg>
</div>
</body></html>
